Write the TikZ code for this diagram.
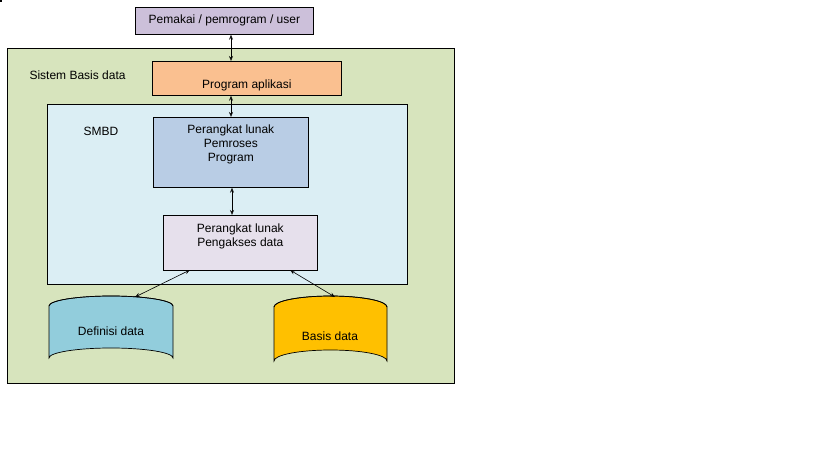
\documentclass[tikz,border=0pt]{standalone}
\usepackage{fontspec}
\setmainfont{Liberation Sans}
\usetikzlibrary{arrows.meta}
\begin{document}
\begin{tikzpicture}[x=1pt,y=-1pt,
  box/.style={draw,line width=0.7pt,anchor=north west,inner sep=0pt},
  lab/.style={font=\fontsize{12}{14}\selectfont,align=center},
  dbl/.style={{Stealth[length=5pt,width=4pt,open]}-{Stealth[length=5pt,width=4pt,open]},line width=0.6pt}]
\useasboundingbox (0,0) rectangle (819,460);
\fill[white] (0,0) rectangle (819,460);
\node[box,fill=black!0] at (0,0) {};
\draw[line width=0.7pt,fill={rgb,255:red,215;green,228;blue,189}] (7,48) rectangle (454,383);
\node[lab,anchor=west] (sbd) at (26,75) {Sistem Basis data};
\draw[line width=0.7pt,fill={rgb,255:red,219;green,238;blue,244}] (47,104) rectangle (407,284);
\node[lab,anchor=west] (smbd) at (80,131) {SMBD};
\node[box,fill={rgb,255:red,204;green,192;blue,218},minimum width=178,minimum height=27] (user) at (135,7) {};
\node[lab] at (user.center) {Pemakai / pemrogram / user};
\node[box,fill={rgb,255:red,250;green,192;blue,144},minimum width=189,minimum height=34] (prog) at (152,61) {};
\node[lab] at ([yshift=-7]prog.center) {Program aplikasi};
\node[box,fill={rgb,255:red,185;green,205;blue,229},minimum width=155,minimum height=70] (pem) at (153,117) {};
\node[lab,anchor=north,font=\fontsize{12}{14}\selectfont] at ([yshift=-4]pem.north) {Perangkat lunak\\Pemroses\\Program};
\node[box,fill={rgb,255:red,230;green,224;blue,236},minimum width=154,minimum height=55] (pen) at (163,215) {};
\node[lab,anchor=north] at ([yshift=-5]pen.north) {Perangkat lunak\\Pengakses data};
% cylinders
\draw[line width=0.7pt,fill={rgb,255:red,146;green,205;blue,220}] (49,306) -- (49,358) arc[start angle=180,end angle=360,x radius=62,y radius=10] -- (173,306) arc[start angle=0,end angle=-180,x radius=62,y radius=10] -- cycle;
\draw[line width=0.7pt] (49,306) arc[start angle=180,end angle=360,x radius=62,y radius=10];
\coordinate (c1) at (135,297);
\node[lab] (def) at (111,331) {Definisi data};
\draw[line width=0.7pt,fill={rgb,255:red,255;green,192;blue,0}] (274,307) -- (274,361) arc[start angle=180,end angle=360,x radius=56.5,y radius=11] -- (387,307) arc[start angle=0,end angle=-180,x radius=56.5,y radius=11] -- cycle;
\draw[line width=0.7pt] (274,307) arc[start angle=180,end angle=360,x radius=56.5,y radius=11];
\coordinate (c2) at (335,297);
\node[lab] (bd) at (330,336) {Basis data};
% arrows
\draw[dbl] (user.south -| 231,0) -- (prog.north -| 231,0);
\draw[dbl] (prog.south -| 231,0) -- (pem.north -| 231,0);
\draw[dbl] (pem.south -| 232,0) -- (pen.north -| 232,0);
\draw[dbl] (190,270) -- (c1);
\draw[dbl] (290,270) -- (c2);
\end{tikzpicture}
\end{document}
